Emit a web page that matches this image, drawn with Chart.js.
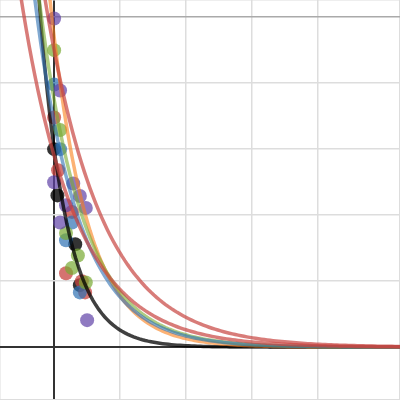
<!DOCTYPE html><html><head><style>html,body{margin:0;padding:0;background:#fff;overflow:hidden}#w{position:absolute;left:-7px;top:-7px;width:414px;height:414px}</style>
<script src="https://cdn.jsdelivr.net/npm/chart.js@4"></script></head><body><div id="w"><canvas id="c"></canvas></div><script>
const sampleX=[];for(let i=0;i<=140;i++)sampleX.push(-0.82+i*0.044);
const curveNames=['red1','red2','blue','green','orange','black'];
const curveA=[2.9,4.5,3.4,3.75,4.7,3.0];
const curveB=[1.2,1.15,1.5,1.5,1.8,2.45];
const curveColors=['rgba(199,68,64,0.7)','rgba(199,68,64,0.7)','rgba(45,112,179,0.6)','rgba(120,170,50,0.6)','rgba(250,126,25,0.6)','rgba(0,0,0,0.75)'];
const ptPurpleX=[0,0.09,0,0.29,0.39,0.48,0.18,0.09,0.5];
const ptPurpleY=[4.98,3.89,2.5,2.48,2.29,2.11,2.15,1.89,0.41];
const ptGreenX=[0,0.09,0.18,0.36,0.27,0.48];
const ptGreenY=[4.5,3.29,1.73,1.39,1.2,0.98];
const ptBlueX=[0,0.09,0.27,0.18,0.39];
const ptBlueY=[3.98,3.0,1.89,1.62,0.83];
const ptRedX=[0,0.06,0.27,0.18,0.47,0.42];
const ptRedY=[3.48,2.68,2.05,1.12,0.83,1.0];
const ptBlackX=[0,0.05,0.32,0.39];
const ptBlackY=[3.0,2.3,1.56,0.94];
const ds=[];
curveNames.forEach((n,i)=>{ds.push({type:'line',label:n,data:sampleX.map(x=>({x,y:curveA[i]*Math.exp(-curveB[i]*x)})),borderColor:curveColors[i],borderWidth:3.5,pointRadius:0,tension:0});});
const pts=[[ptPurpleX,ptPurpleY,'rgba(96,66,166,0.7)'],[ptGreenX,ptGreenY,'rgba(120,170,50,0.7)'],[ptBlueX,ptBlueY,'rgba(45,112,179,0.7)'],[ptRedX,ptRedY,'rgba(199,68,64,0.75)'],[ptBlackX,ptBlackY,'rgba(0,0,0,0.8)']];
pts.forEach(p=>ds.push({type:'scatter',data:p[0].map((x,i)=>({x,y:p[1][i]})),backgroundColor:p[2],borderWidth:0,pointRadius:7}));
const gc=c=>c.tick.value===0?'#333':(c.tick.value===5?'#aaa':'#ddd');
const gw=c=>c.tick.value===0?2:1.5;
new Chart(document.getElementById('c'),{data:{datasets:ds},options:{responsive:true,maintainAspectRatio:false,animation:false,layout:{padding:0},plugins:{legend:{display:false},tooltip:{enabled:false}},
scales:{x:{type:'linear',min:-0.82,max:5.24,ticks:{display:false,stepSize:1},border:{display:false},grid:{color:gc,lineWidth:gw,drawTicks:false}},
y:{type:'linear',min:-0.8,max:5.26,ticks:{display:false,stepSize:1},border:{display:false},grid:{color:gc,lineWidth:gw,drawTicks:false}}}}});
</script></body></html>
